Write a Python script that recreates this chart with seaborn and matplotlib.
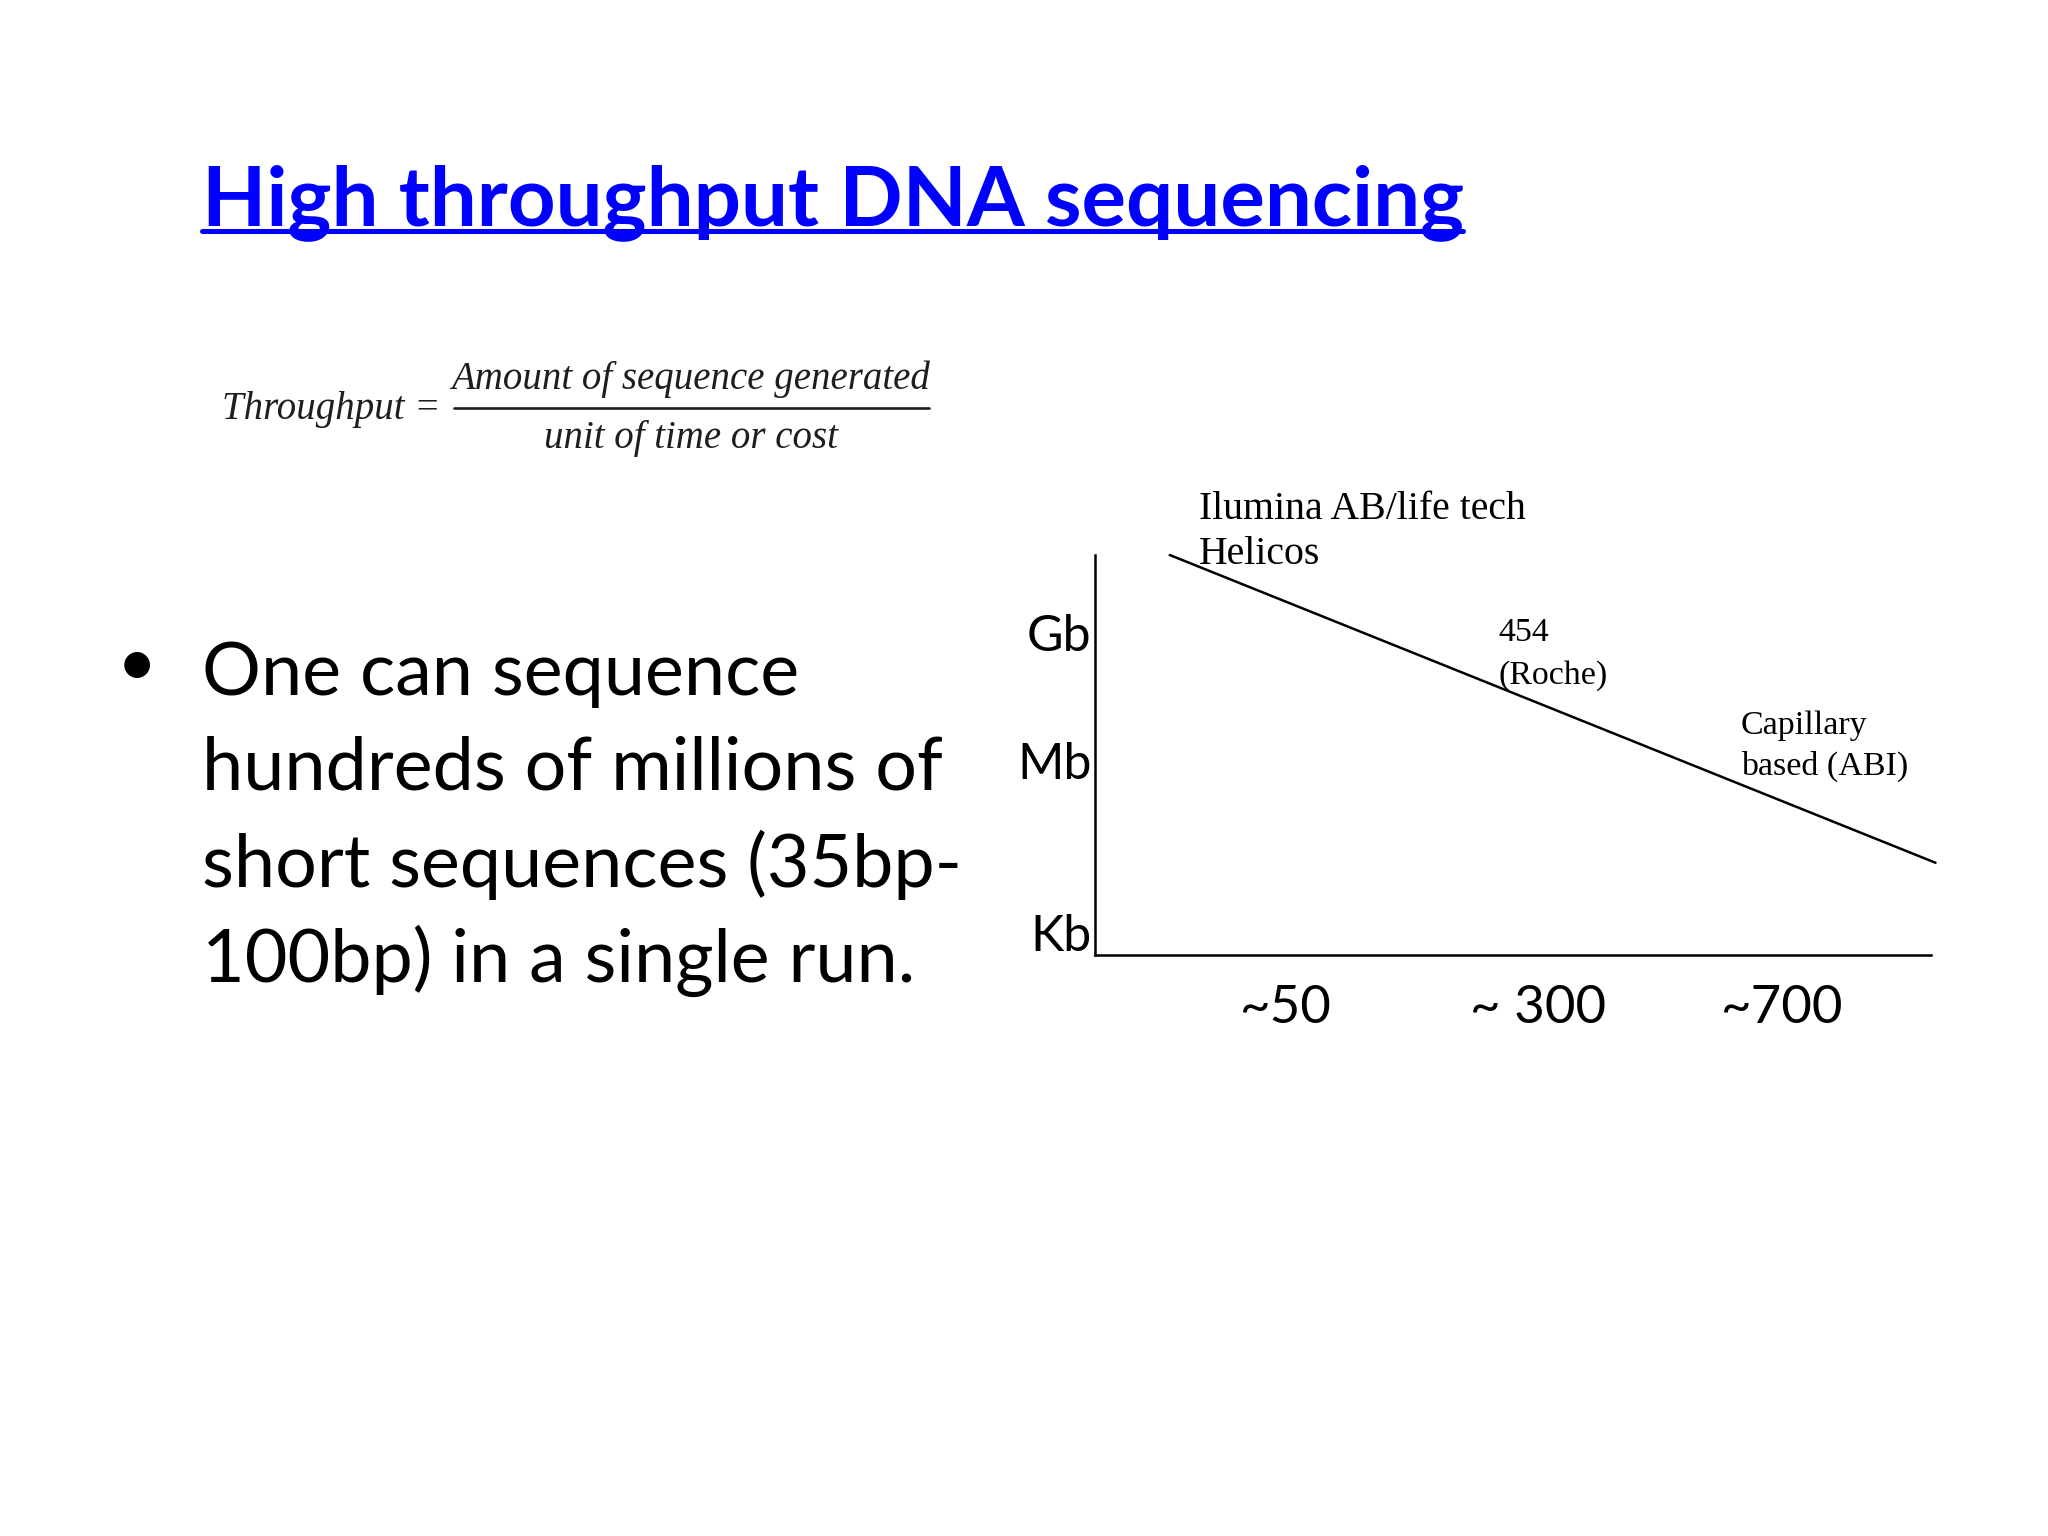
import matplotlib
matplotlib.use("Agg")
import matplotlib.pyplot as plt
import seaborn as sns
from matplotlib.lines import Line2D

# Texte de la diapositive
title = "High throughput DNA sequencing"
bullet_lines = ["One can sequence", "hundreds of millions of",
                "short sequences (35bp-", "100bp) in a single run."]
formula_left = "Throughput ="
formula_num = "Amount of sequence generated"
formula_den = "unit of time or cost"

# Schéma débit / longueur de lecture (unités arbitraires 0-100)
read_length_pos = [9, 100.6]
throughput_pos = [100, 23]
x_tick_pos = [22.9, 53, 82.2]
x_tick_labels = ["~50", "~ 300", "~700"]
y_tick_pos = [5.6, 48.7, 80.7]
y_tick_labels = ["Kb", "Mb", "Gb"]
platforms = [("Ilumina AB/life tech", 12.5, 111.3, 28.6),
             ("Helicos", 12.5, 100, 28.6),
             ("454", 48.3, 80.5, 24.5),
             ("(Roche)", 48.3, 69.8, 24.5),
             ("Capillary", 77.3, 57.3, 24.5),
             ("based (ABI)", 77.3, 47.2, 24.5)]

sns.set_style("white")
plt.rcParams['font.family'] = ['Lato', 'DejaVu Sans']

W, H = 2048, 1536
fig = plt.figure(figsize=(20.48, 15.36), dpi=100)
fig.patch.set_facecolor("white")


def px(x, y):
    return x / W, 1 - y / H


# Titre souligné
fig.text(*px(202, 225), title, fontsize=60, fontweight="bold",
         color="#0000FF", va="baseline", ha="left")
fig.add_artist(Line2D([202 / W, 1463 / W], [1 - 231 / H, 1 - 231 / H],
                      color="#0000FF", lw=3.6))

# Formule
serif = ["Liberation Serif", "DejaVu Serif"]
fcol = "#1e1e1e"
fig.text(*px(222, 419), formula_left, fontsize=28, style="italic",
         family=serif, color=fcol, va="baseline")
fig.text(*px(691, 389), formula_num, fontsize=28, style="italic",
         family=serif, color=fcol, va="baseline", ha="center")
fig.text(*px(691, 448), formula_den, fontsize=28, style="italic",
         family=serif, color=fcol, va="baseline", ha="center")
fig.add_artist(Line2D([454 / W, 929 / W], [1 - 407.5 / H, 1 - 407.5 / H],
                      color=fcol, lw=1.9))

# Puce
fig.text(*px(137, 666), "\u2022", fontsize=50, va="center", ha="center",
         color="black")
baselines = [695, 790, 887, 982]
for line, yb in zip(bullet_lines, baselines):
    fig.text(*px(202, yb), line, fontsize=53, va="baseline", ha="left",
             color="black")

# Schéma
ax = fig.add_axes([1094.5 / W, 1 - 954.7 / H, (1930.5 - 1094.5) / W,
                   (954.7 - 555) / H])
ax.set_facecolor("none")
sns.lineplot(x=read_length_pos, y=throughput_pos, color="black", lw=1.8,
             ax=ax, clip_on=False)
ax.set_xlim(0, 100)
ax.set_ylim(0, 100)
for s in ["top", "right"]:
    ax.spines[s].set_visible(False)
for s in ["left", "bottom"]:
    ax.spines[s].set_color("black")
    ax.spines[s].set_linewidth(1.8)
ax.set_xticks(x_tick_pos, x_tick_labels, fontsize=38, color="black")
ax.set_yticks(y_tick_pos, y_tick_labels, fontsize=36, color="black")
ax.tick_params(axis="x", length=0, pad=22)
ax.tick_params(axis="y", length=0, pad=2)

for label, x, y, size in platforms:
    ax.text(x, y, label, fontsize=size, family=serif, va="center",
            ha="left", clip_on=False, color="black")

fig.savefig("out.png", dpi=100, facecolor="white")
